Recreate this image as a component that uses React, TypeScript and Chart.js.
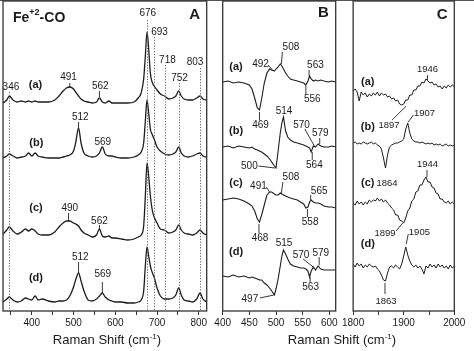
import React, { useEffect, useRef } from 'react';
import { Chart, registerables } from 'chart.js';
Chart.register(...registerables);

const FONT = '"Liberation Sans", Arial, Helvetica, sans-serif';

// ---------------- Panel A (Fe+2-CO, 330-820 cm-1) ----------------
const wnA = [331,340,346,355,365,375,385,392,400,408,415,425,440,455,465,475,483,491,500,505,512,518,525,535,545,555,562,569,576,585,592,600,615,630,645,655,662,668,672,676,680,684,689,693,700,708,718,728,738,745,752,758,765,775,785,795,803,810,819];
const specA_a = [208,211,215,211,209,210,209,210,209,210,209,209,209,211,215,220,223,224,222,219,215,212,210,209,208,209,213,209,208,210,208,208,208,208,209,213,218,232,255,279,262,238,228,225,221,217,215,212,213,215,220,215,212,211,211,213,215,212,211];
const specA_b = [153,155,157,155,153,154,155,158,155,158,155,154,153,153,153,154,155,156,160,168,183,168,158,155,154,155,158,164,157,155,155,154,153,153,154,156,159,168,190,211,198,182,176,172,164,160,157,156,157,159,164,158,155,154,155,157,158,155,154];
const specA_c = [77,81,84,80,77,79,82,80,82,80,77,76,76,79,84,88,90,90,88,87,85,81,78,76,74,76,82,75,74,75,73,73,72,71,72,74,76,85,115,148,135,115,100,94,88,82,81,78,79,81,86,81,78,77,76,78,81,78,76];
const specA_d = [9,12,14,11,9,10,13,12,11,15,11,12,10,9,10,10,11,15,24,31,38,30,20,11,10,12,15,18,14,11,10,9,9,8,8,9,11,20,45,64,55,45,38,34,23,15,12,12,13,16,23,16,11,10,9,12,18,12,9];

const textsA = [
  { t: 'Fe', sup: '+2', tail: '-CO', x: 355, y: 293, k: 'title' },
  { t: 'A', x: 790, y: 296, k: 'panel' },
  { t: '346', x: 350, y: 224 },
  { t: '676', x: 678, y: 298 },
  { t: '693', x: 706, y: 279 },
  { t: '718', x: 725, y: 251 },
  { t: '752', x: 754, y: 233 },
  { t: '803', x: 791, y: 249 },
  { t: '(a)', x: 409, y: 226, k: 'trace' },
  { t: '491', x: 488, y: 234 },
  { t: '562', x: 564, y: 225 },
  { t: '(b)', x: 411, y: 168, k: 'trace' },
  { t: '512', x: 516, y: 194 },
  { t: '569', x: 570, y: 169 },
  { t: '(c)', x: 410, y: 103, k: 'trace' },
  { t: '490', x: 491, y: 103 },
  { t: '562', x: 562, y: 90 },
  { t: '(d)', x: 410, y: 33, k: 'trace' },
  { t: '512', x: 516, y: 54 },
  { t: '569', x: 570, y: 37 },
];
const leadersA = [
  [491, 228, 491, 223], [562, 220, 562, 214], [512, 189, 512, 183],
  [488, 98, 488, 90], [562, 86, 562, 82], [512, 49, 512, 38], [569, 29, 569, 18],
];
const dottedA = [
  { x: 346, top: 219 }, { x: 676, top: 291 }, { x: 693, top: 274 },
  { x: 718, top: 246 }, { x: 752, top: 228 }, { x: 803, top: 243 },
];

// ---------------- Panel B (400-612 cm-1) ----------------
const wnB = [400,410,420,430,440,450,455,460,465,469,473,478,483,488,492,497,500,504,508,511,514,518,522,527,533,540,546,552,556,560,563,566,570,574,579,584,590,598,605,612];
const specB_a = [229,230,228,229,228,226,222,213,203,201,212,228,238,242,241,240,242,244,247,245,242,238,235,232,231,230,229,228,226,230,235,232,230,231,230,231,230,229,230,229];
const specB_b = [164,165,163,165,164,163,164,162,161,160,159,157,155,152,149,145,143,160,178,188,194,180,174,171,169,168,167,166,165,164,163,159,165,164,167,165,164,164,165,164];
const specB_c = [111,112,113,112,110,107,105,100,92,89,96,106,116,119,119,117,116,116,118,117,116,115,114,113,112,111,109,107,103,104,109,111,109,108,108,107,105,104,104,103];
const specB_d = [35,34,36,34,35,33,34,33,32,31,31,28,26,23,20,16,22,32,45,55,61,57,52,47,45,44,43,43,42,40,34,40,44,41,45,42,41,41,41,41];

const textsB = [
  { t: 'B', x: 589, y: 298, k: 'panel' },
  { t: '(a)', x: 425, y: 244, k: 'trace' },
  { t: '492', x: 471, y: 247 },
  { t: '508', x: 528, y: 264 },
  { t: '563', x: 574, y: 246 },
  { t: '556', x: 568, y: 212 },
  { t: '469', x: 471, y: 186 },
  { t: '(b)', x: 425, y: 180, k: 'trace' },
  { t: '514', x: 515, y: 200 },
  { t: '570', x: 548, y: 186 },
  { t: '579', x: 583, y: 178 },
  { t: '564', x: 572, y: 146 },
  { t: '500', x: 450, y: 145 },
  { t: '(c)', x: 425, y: 128, k: 'trace' },
  { t: '491', x: 467, y: 125 },
  { t: '508', x: 528, y: 134 },
  { t: '565', x: 581, y: 120 },
  { t: '558', x: 564, y: 89 },
  { t: '468', x: 470, y: 73 },
  { t: '(d)', x: 425, y: 59, k: 'trace' },
  { t: '515', x: 515, y: 68 },
  { t: '570', x: 547, y: 56 },
  { t: '579', x: 584, y: 58 },
  { t: '563', x: 565, y: 24 },
  { t: '497', x: 451, y: 12 },
];
const leadersB = [
  [485, 246, 495, 240], [512, 259, 510, 247], [562, 241, 562, 235], [556, 217, 556, 225],
  [469, 191, 469, 199], [554, 182, 572, 165], [582, 173, 582, 167], [568, 151, 568, 159],
  [467, 145, 498, 143], [482, 124, 489, 118], [513, 129, 510, 118], [565, 116, 565, 110],
  [559, 94, 559, 102], [468, 78, 468, 87], [551, 52, 572, 43], [581, 54, 581, 46],
  [564, 29, 564, 34], [470, 13, 496, 16],
];

// ---------------- Panel C (1800-2000 cm-1) ----------------
const wnC = [1800,1804,1808,1812,1816,1820,1824,1828,1832,1836,1840,1844,1848,1852,1856,1860,1864,1868,1872,1876,1880,1884,1888,1892,1896,1900,1904,1908,1912,1916,1920,1924,1928,1932,1936,1940,1944,1948,1952,1956,1960,1964,1968,1972,1976,1980,1984,1988,1992,1996,2000];
const specC_a = [220,222,219,210,219,216,218,214,217,215,218,216,219,215,218,216,217,214,215,212,213,210,211,207,206,207,211,211,216,216,221,221,225,225,229,228,232,230,228,229,226,227,224,225,222,225,223,226,224,226,224];
const specC_b = [168,169,167,168,167,169,168,167,168,169,167,168,166,165,162,153,143,156,164,166,167,168,168,169,170,172,182,188,178,172,170,169,169,168,169,168,167,168,167,168,166,167,166,167,165,166,167,165,166,165,166];
const specC_c = [108,106,110,107,109,106,109,107,111,109,111,110,113,110,112,109,111,108,106,103,101,96,96,91,90,88,93,100,103,110,112,119,120,126,126,131,134,129,129,124,123,118,117,112,112,109,108,110,107,109,107];
const specC_d = [47,44,48,45,47,43,46,44,47,45,44,45,42,40,36,31,30,38,44,45,43,46,44,42,47,55,64,56,50,46,44,46,43,45,42,37,45,43,47,44,46,43,47,44,46,43,45,42,46,43,45];

const textsC = [
  { t: 'C', x: 1976, y: 296, k: 'panel' },
  { t: '(a)', x: 1829, y: 229, k: 'trace' },
  { t: '1946', x: 1947, y: 242 },
  { t: '(b)', x: 1829, y: 184, k: 'trace' },
  { t: '1897', x: 1871, y: 186 },
  { t: '1907', x: 1941, y: 198 },
  { t: '1944', x: 1947, y: 147 },
  { t: '(c)', x: 1829, y: 128, k: 'trace' },
  { t: '1864', x: 1867, y: 128 },
  { t: '1899', x: 1863, y: 78 },
  { t: '1905', x: 1931, y: 79 },
  { t: '(d)', x: 1829, y: 67, k: 'trace' },
  { t: '1863', x: 1865, y: 10 },
];
const leadersC = [
  [1947, 236, 1947, 231], [1877, 191, 1905, 205], [1919, 196, 1909, 189],
  [1946, 141, 1946, 134], [1885, 80, 1898, 88], [1909, 77, 1905, 67], [1863, 17, 1863, 28],
];

const PANELS = [
  { id: 'A', left: 0, width: 212, padL: 3, padR: 5.3, xMin: 331, xMax: 819, wn: wnA,
    traces: [specA_a, specA_b, specA_c, specA_d], texts: textsA, leaders: leadersA, dotted: dottedA,
    tickSize: 10, numSize: 10, lw: 1.3, smooth: true, labelStep: 100 },
  { id: 'B', left: 212, width: 128, padL: 10.7, padR: 4.3, xMin: 400, xMax: 612, wn: wnB,
    traces: [specB_a, specB_b, specB_c, specB_d], texts: textsB, leaders: leadersB, dotted: [],
    tickSize: 10, numSize: 10, lw: 1.1, smooth: false, labelStep: 50 },
  { id: 'C', left: 340, width: 134, padL: 10.7, padR: 19.7, xMin: 1800, xMax: 2000, wn: wnC,
    traces: [specC_a, specC_b, specC_c, specC_d], texts: textsC, leaders: leadersC, dotted: [],
    tickSize: 10, numSize: 9.5, lw: 1, smooth: false, labelStep: 100 },
];

const CANVAS_H = 335;

function makeOverlay(p: any) {
  return {
    id: 'overlay' + p.id,
    afterDatasetsDraw(chart: any) {
      const { ctx, chartArea: ca } = chart;
      const xs = chart.scales.x, ys = chart.scales.y;
      const X = (v: number) => xs.getPixelForValue(v);
      const Y = (v: number) => ys.getPixelForValue(v);
      ctx.save();
      ctx.strokeStyle = '#666';
      ctx.lineWidth = 1;
      ctx.setLineDash([1.2, 1.6]);
      for (const d of p.dotted) {
        const px = Math.round(X(d.x)) + 0.5;
        ctx.beginPath();
        ctx.moveTo(px, Y(d.top));
        ctx.lineTo(px, ca.bottom);
        ctx.stroke();
      }
      ctx.setLineDash([]);
      ctx.strokeStyle = '#222';
      ctx.lineWidth = 0.9;
      for (const l of p.leaders) {
        ctx.beginPath();
        ctx.moveTo(X(l[0]), Y(l[1]));
        ctx.lineTo(X(l[2]), Y(l[3]));
        ctx.stroke();
      }
      ctx.fillStyle = '#1a1a1a';
      ctx.textBaseline = 'middle';
      for (const t of p.texts) {
        const k = t.k || 'n';
        const px = X(t.x), py = Y(t.y);
        if (k === 'title') {
          ctx.textAlign = 'left';
          ctx.font = `bold 14px ${FONT}`;
          ctx.fillText(t.t, px, py);
          let cx = px + ctx.measureText(t.t).width;
          ctx.font = `bold 9px ${FONT}`;
          ctx.fillText(t.sup, cx, py - 5);
          cx += ctx.measureText(t.sup).width;
          ctx.font = `bold 14px ${FONT}`;
          ctx.fillText(t.tail, cx, py);
          continue;
        }
        ctx.textAlign = 'center';
        if (k === 'panel') ctx.font = `bold 15px ${FONT}`;
        else if (k === 'trace') ctx.font = `bold 11px ${FONT}`;
        else ctx.font = `${p.numSize}px ${FONT}`;
        ctx.fillText(t.t, px, py);
      }
      ctx.strokeStyle = '#333';
      ctx.lineWidth = 1.3;
      ctx.strokeRect(ca.left, ca.top, ca.right - ca.left, ca.bottom - ca.top);
      ctx.restore();
    },
  };
}

function Panel({ p }: { p: any }) {
  const ref = useRef<HTMLCanvasElement>(null);
  useEffect(() => {
    if (!ref.current) return;
    const chart = new Chart(ref.current, {
      type: 'line',
      data: {
        datasets: p.traces.map((tr: number[]) => ({
          data: p.wn.map((w: number, i: number) => ({ x: w, y: tr[i] })),
          borderColor: '#1c1c1c',
          borderWidth: p.lw,
          pointRadius: 0,
          fill: false,
          tension: 0,
          cubicInterpolationMode: p.smooth ? 'monotone' : 'default',
        })),
      },
      options: {
        animation: false,
        responsive: false,
        devicePixelRatio: 1,
        layout: { padding: { left: p.padL, right: p.padR, top: 1, bottom: 0 } },
        plugins: { legend: { display: false }, tooltip: { enabled: false } },
        scales: {
          x: {
            type: 'linear',
            min: p.xMin,
            max: p.xMax,
            border: { display: false },
            grid: { drawOnChartArea: false, drawTicks: true, tickLength: 4, color: '#333', lineWidth: 1 },
            ticks: {
              stepSize: 50,
              includeBounds: false,
              autoSkip: false,
              maxRotation: 0,
              padding: 2,
              color: '#1a1a1a',
              font: { family: FONT, size: p.tickSize },
              callback: (v: any) => (Number(v) % p.labelStep === 0 ? String(v) : ''),
            },
            afterFit: (s: any) => { s.height = 24; },
          },
          y: { display: false, min: 0, max: 310 },
        },
      } as any,
      plugins: [makeOverlay(p)],
    });
    return () => chart.destroy();
  }, [p]);
  return (
    <canvas
      ref={ref}
      width={p.width}
      height={CANVAS_H}
      style={{ position: 'absolute', left: p.left, top: 0, width: p.width, height: CANVAS_H }}
    />
  );
}

function AxisTitle({ cx }: { cx: number }) {
  return (
    <div
      style={{
        position: 'absolute', left: cx - 80, top: 332, width: 160, textAlign: 'center',
        fontFamily: FONT, fontSize: 13, lineHeight: '16px', color: '#1a1a1a', whiteSpace: 'nowrap',
      }}
    >
      Raman Shift (cm<span style={{ fontSize: 8, position: 'relative', top: -5 }}>-1</span>)
    </div>
  );
}

export default function App() {
  return (
    <div style={{ position: 'fixed', left: 0, top: 0, width: 474, height: 351, background: '#fff', overflow: 'hidden' }}>
      <div style={{ position: 'absolute', left: 0, top: 0, width: 474, height: 1, background: '#555' }} />
      {PANELS.map((p) => <Panel key={p.id} p={p} />)}
      <AxisTitle cx={107} />
      <AxisTitle cx={342} />
    </div>
  );
}
